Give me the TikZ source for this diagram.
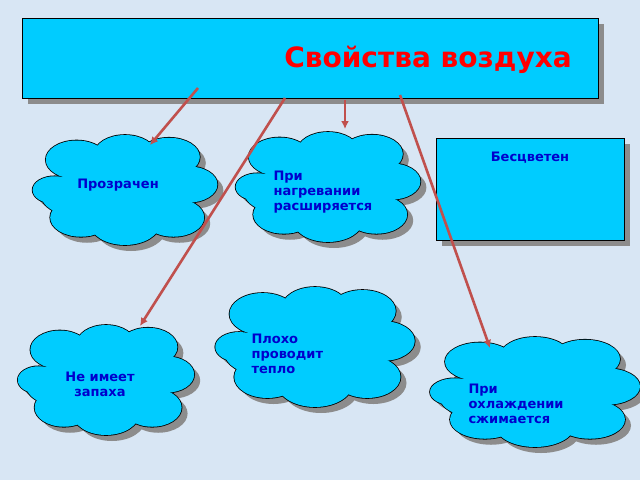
\documentclass[tikz,border=0pt]{standalone}
\usepackage{fontspec}
\setmainfont{DejaVu Sans}
\begin{document}
\begin{tikzpicture}[x=1pt,y=-1pt,
  lbl/.style={text=txtblue,font=\bfseries\fontsize{13}{15}\selectfont,align=left},
  arr/.style={draw=arrred,line width=2.6pt,-{Latex[length=8pt,width=8pt]}}]
\usetikzlibrary{arrows.meta}
\definecolor{bg}{HTML}{D8E6F4}
\definecolor{cy}{HTML}{00CCFF}
\definecolor{txtblue}{HTML}{0000CC}
\definecolor{arrred}{HTML}{C0504D}
\definecolor{sh}{HTML}{8C8C8C}
\fill[bg] (0,0) rectangle (640,480);
\useasboundingbox (0,0) rectangle (640,480);
\newcommand{\mycloud}[4]{%
 \begin{scope}[shift={(#1+6,#2+6)},xscale=#3,yscale=#4]
  \foreach \a/\b/\r in {-0.55/-0.55/0.35,0/-0.65/0.35,0.5/-0.6/0.35,0.72/-0.1/0.33,0.55/0.5/0.35,0/0.6/0.4,-0.5/0.5/0.35,-0.8/0/0.25,-0.6/0.1/0.35,0/0/0.6}
   \fill[sh] (\a,\b) circle (\r);
 \end{scope}
 \begin{scope}[shift={(#1,#2)},xscale=#3,yscale=#4]
  \foreach \a/\b/\r in {-0.55/-0.55/0.35,0/-0.65/0.35,0.5/-0.6/0.35,0.72/-0.1/0.33,0.55/0.5/0.35,0/0.6/0.4,-0.5/0.5/0.35,-0.8/0/0.25,-0.6/0.1/0.35,0/0/0.6}
   \draw[black,line width=1.6pt] (\a,\b) circle (\r);
  \foreach \a/\b/\r in {-0.55/-0.55/0.35,0/-0.65/0.35,0.5/-0.6/0.35,0.72/-0.1/0.33,0.55/0.5/0.35,0/0.6/0.4,-0.5/0.5/0.35,-0.8/0/0.25,-0.6/0.1/0.35,0/0/0.6}
   \fill[cy] (\a,\b) circle (\r);
 \end{scope}}
% title box
\fill[sh] (28,24) rectangle (604,104);
\node[draw=black,fill=cy,minimum width=576pt,minimum height=80pt,anchor=north west,inner sep=0] (title) at (22,18) {};
\node[text=red,font=\bfseries\fontsize{28}{32}\selectfont] (tt) at (428,60) {Свойства воздуха};
% box
\fill[sh] (442,144) rectangle (630,246);
\node[draw=black,fill=cy,minimum width=188pt,minimum height=102pt,anchor=north west,inner sep=0] (box) at (436,138) {};
\node[lbl] (bt) at (530,158) {Бесцветен};
% clouds
\mycloud{125}{190}{88}{55}
\mycloud{328}{187}{88}{55}
\mycloud{315}{347}{95}{60}
\mycloud{106}{380}{84}{55}
\mycloud{535}{392}{100}{55}
\node[lbl] (c1) at (118,185) {Прозрачен};
\node[lbl,anchor=west] (c2) at (270,192) {При\\нагревании\\расширяется};
\node[lbl,anchor=west] (c3) at (248,354) {Плохо\\проводит\\тепло};
\node[lbl,align=center] (c4) at (100,384) {Не имеет\\запаха};
\node[lbl,anchor=west] (c5) at (465,404) {При\\охлаждении\\сжимается};
% arrows
\coordinate (s1) at (198,88); \coordinate (e1) at (150,145);
\coordinate (s2) at (285,98); \coordinate (e2) at (140,326);
\coordinate (s3) at (345,100); \coordinate (e3) at (345,129);
\coordinate (s4) at (400,95); \coordinate (e4) at (490,348);
\draw[arr] (s1) -- (e1);
\draw[arr] (s2) -- (e2);
\draw[arr] (s3) -- (e3);
\draw[arr] (s4) -- (e4);
\end{tikzpicture}
\end{document}
